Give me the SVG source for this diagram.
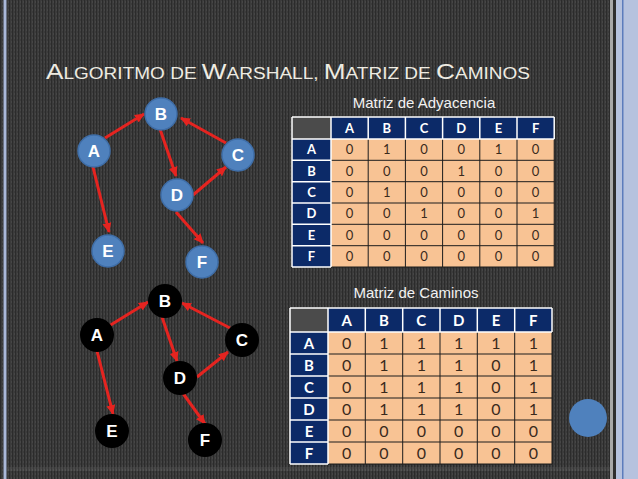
<svg xmlns="http://www.w3.org/2000/svg" width="638" height="479" viewBox="0 0 638 479">
<defs>
<pattern id="tex" width="3" height="4" patternUnits="userSpaceOnUse">
<rect width="3" height="4" fill="#3b3b3b"/>
<rect x="0" y="0" width="1" height="4" fill="#2b2b2b"/>
<rect x="2" y="1" width="1" height="2" fill="#464646"/>
</pattern>
<marker id="ah" markerWidth="10" markerHeight="10" refX="9" refY="5" orient="auto" markerUnits="userSpaceOnUse">
<path d="M0,0.5 L10,5 L0,9.5 z" fill="#e52420"/>
</marker>
<style>
.ttl{font-family:"Liberation Sans",Arial,sans-serif;fill:#eeebe2}
.sub{font-family:"Liberation Sans",Arial,sans-serif;font-size:15px;fill:#f2f2f2;text-anchor:middle}
.edge{stroke:#e52420;stroke-width:3;fill:none;marker-end:url(#ah)}
.nb{fill:#4f81bd;stroke:#3f6ea8;stroke-width:1.5}
.nk{fill:#000}
.nt{font-family:"Liberation Sans",Arial,sans-serif;font-weight:bold;font-size:17px;fill:#fff;text-anchor:middle}
.hd{fill:#0c2a68}
.cr{fill:#4b4b4b}
.ce{fill:#f8c394}
.wl{stroke:#fff;stroke-width:1.5}
.dl{stroke:#1c1c1c;stroke-width:1}
.h1{font-family:Lato,"Open Sans",sans-serif;font-weight:bold;font-size:13px;fill:#fff;text-anchor:middle}
.v1{font-family:Lato,"Open Sans",sans-serif;font-size:13px;fill:#3a2a1c;text-anchor:middle}
.h2{font-family:Lato,"Open Sans",sans-serif;font-weight:bold;font-size:15px;fill:#fff;text-anchor:middle}
.v2{font-family:Lato,"Open Sans",sans-serif;font-size:16px;fill:#3a2a1c;text-anchor:middle}
</style>
</defs>

<rect width="638" height="479" fill="url(#tex)"/>
<rect x="3.5" y="0" width="3" height="479" fill="#aab8d8"/>
<rect x="610" y="0" width="3" height="479" fill="#a8a8a8"/>
<rect x="613" y="0" width="3" height="479" fill="#2e2e2e"/>
<rect x="616" y="0" width="22" height="479" fill="#b6c2de"/>
<rect x="622" y="0" width="1.5" height="479" fill="#5c7cbc"/>
<rect x="7" y="467" width="603" height="4" fill="#ffffff" opacity="0.07"/>

<text class="ttl" x="46" y="78.5" textLength="484" lengthAdjust="spacingAndGlyphs"><tspan font-size="22">A</tspan><tspan font-size="16">LGORITMO DE </tspan><tspan font-size="22">W</tspan><tspan font-size="16">ARSHALL, </tspan><tspan font-size="22">M</tspan><tspan font-size="16">ATRIZ DE </tspan><tspan font-size="22">C</tspan><tspan font-size="16">AMINOS</tspan></text>

<g id="connectors">
<line class="edge" x1="105" y1="138" x2="144" y2="114"/>
<line class="edge" x1="160" y1="129" x2="176" y2="176"/>
<line class="edge" x1="226" y1="143" x2="181" y2="118"/>
<line class="edge" x1="193" y1="195" x2="226" y2="167"/>
<line class="edge" x1="93" y1="167" x2="109" y2="232"/>
<line class="edge" x1="176" y1="212" x2="203" y2="243"/>
<line class="edge" x1="109" y1="326" x2="148" y2="302"/>
<line class="edge" x1="162" y1="317" x2="177" y2="361"/>
<line class="edge" x1="230" y1="328" x2="182" y2="303"/>
<line class="edge" x1="197" y1="377" x2="228" y2="352"/>
<line class="edge" x1="97" y1="351" x2="113" y2="414"/>
<line class="edge" x1="182" y1="392" x2="205" y2="424"/>
</g>

<g id="nodeA1"><circle class="nb" cx="94" cy="151" r="16"/><text class="nt" x="94" y="157">A</text></g>
<g id="nodeB1"><circle class="nb" cx="161" cy="114" r="16"/><text class="nt" x="161" y="120">B</text></g>
<g id="nodeC1"><circle class="nb" cx="238" cy="155" r="16"/><text class="nt" x="238" y="161">C</text></g>
<g id="nodeD1"><circle class="nb" cx="177" cy="195" r="16"/><text class="nt" x="177" y="201">D</text></g>
<g id="nodeE1"><circle class="nb" cx="108" cy="251" r="16"/><text class="nt" x="108" y="257">E</text></g>
<g id="nodeF1"><circle class="nb" cx="202" cy="262" r="16"/><text class="nt" x="202" y="268">F</text></g>

<g id="nodeA2"><circle class="nk" cx="97" cy="335" r="17"/><text class="nt" x="97" y="341">A</text></g>
<g id="nodeB2"><circle class="nk" cx="165" cy="301" r="17"/><text class="nt" x="165" y="307">B</text></g>
<g id="nodeC2"><circle class="nk" cx="242" cy="340" r="17"/><text class="nt" x="242" y="346">C</text></g>
<g id="nodeD2"><circle class="nk" cx="180" cy="378" r="17"/><text class="nt" x="180" y="384">D</text></g>
<g id="nodeE2"><circle class="nk" cx="112" cy="431" r="17"/><text class="nt" x="112" y="437">E</text></g>
<g id="nodeF2"><circle class="nk" cx="205" cy="440" r="17"/><text class="nt" x="205" y="446">F</text></g>

<g id="matriz-adyacencia">
<text class="sub" x="424" y="108">Matriz de Adyacencia</text>
<rect class="cr" x="292" y="117" width="39" height="22"/>
<rect class="hd" x="331" y="117" width="223.2" height="22"/>
<rect class="hd" x="292" y="139" width="39" height="128"/>
<rect class="ce" x="331" y="139" width="223.2" height="128"/>
<g class="dl">
<line x1="368.2" y1="139" x2="368.2" y2="267"/><line x1="405.4" y1="139" x2="405.4" y2="267"/><line x1="442.6" y1="139" x2="442.6" y2="267"/><line x1="479.8" y1="139" x2="479.8" y2="267"/><line x1="517" y1="139" x2="517" y2="267"/><line x1="554.2" y1="139" x2="554.2" y2="267"/>
<line x1="331" y1="160.3" x2="554.2" y2="160.3"/><line x1="331" y1="181.7" x2="554.2" y2="181.7"/><line x1="331" y1="203" x2="554.2" y2="203"/><line x1="331" y1="224.3" x2="554.2" y2="224.3"/><line x1="331" y1="245.7" x2="554.2" y2="245.7"/><line x1="331" y1="267" x2="554.2" y2="267"/>
</g>
<g class="wl">
<line x1="292" y1="117" x2="554.2" y2="117"/><line x1="292" y1="139" x2="554.2" y2="139"/>
<line x1="292" y1="117" x2="292" y2="267"/><line x1="331" y1="117" x2="331" y2="267"/>
<line x1="368.2" y1="117" x2="368.2" y2="139"/><line x1="405.4" y1="117" x2="405.4" y2="139"/><line x1="442.6" y1="117" x2="442.6" y2="139"/><line x1="479.8" y1="117" x2="479.8" y2="139"/><line x1="517" y1="117" x2="517" y2="139"/><line x1="554.2" y1="117" x2="554.2" y2="139"/>
<line x1="292" y1="160.3" x2="331" y2="160.3"/><line x1="292" y1="181.7" x2="331" y2="181.7"/><line x1="292" y1="203" x2="331" y2="203"/><line x1="292" y1="224.3" x2="331" y2="224.3"/><line x1="292" y1="245.7" x2="331" y2="245.7"/><line x1="292" y1="267" x2="331" y2="267"/>
</g>
<g class="h1">
<text x="349.6" y="132.5">A</text><text x="386.8" y="132.5">B</text><text x="424" y="132.5">C</text><text x="461.2" y="132.5">D</text><text x="498.4" y="132.5">E</text><text x="535.6" y="132.5">F</text>
<text x="311.5" y="154.3">A</text><text x="311.5" y="175.7">B</text><text x="311.5" y="197">C</text><text x="311.5" y="218.3">D</text><text x="311.5" y="239.7">E</text><text x="311.5" y="261">F</text>
</g>
<g class="v1">
<text x="349.6" y="154.3">0</text><text x="386.8" y="154.3">1</text><text x="424" y="154.3">0</text><text x="461.2" y="154.3">0</text><text x="498.4" y="154.3">1</text><text x="535.6" y="154.3">0</text>
<text x="349.6" y="175.7">0</text><text x="386.8" y="175.7">0</text><text x="424" y="175.7">0</text><text x="461.2" y="175.7">1</text><text x="498.4" y="175.7">0</text><text x="535.6" y="175.7">0</text>
<text x="349.6" y="197">0</text><text x="386.8" y="197">1</text><text x="424" y="197">0</text><text x="461.2" y="197">0</text><text x="498.4" y="197">0</text><text x="535.6" y="197">0</text>
<text x="349.6" y="218.3">0</text><text x="386.8" y="218.3">0</text><text x="424" y="218.3">1</text><text x="461.2" y="218.3">0</text><text x="498.4" y="218.3">0</text><text x="535.6" y="218.3">1</text>
<text x="349.6" y="239.7">0</text><text x="386.8" y="239.7">0</text><text x="424" y="239.7">0</text><text x="461.2" y="239.7">0</text><text x="498.4" y="239.7">0</text><text x="535.6" y="239.7">0</text>
<text x="349.6" y="261">0</text><text x="386.8" y="261">0</text><text x="424" y="261">0</text><text x="461.2" y="261">0</text><text x="498.4" y="261">0</text><text x="535.6" y="261">0</text>
</g>
</g>

<g id="matriz-caminos">
<text class="sub" x="416" y="298">Matriz de Caminos</text>
<rect class="cr" x="290" y="308" width="38" height="24"/>
<rect class="hd" x="328" y="308" width="224" height="24"/>
<rect class="hd" x="290" y="332" width="38" height="132"/>
<rect class="ce" x="328" y="332" width="224" height="132"/>
<g class="dl">
<line x1="365.3" y1="332" x2="365.3" y2="464"/><line x1="402.7" y1="332" x2="402.7" y2="464"/><line x1="440" y1="332" x2="440" y2="464"/><line x1="477.3" y1="332" x2="477.3" y2="464"/><line x1="514.7" y1="332" x2="514.7" y2="464"/><line x1="552" y1="332" x2="552" y2="464"/>
<line x1="328" y1="354" x2="552" y2="354"/><line x1="328" y1="376" x2="552" y2="376"/><line x1="328" y1="398" x2="552" y2="398"/><line x1="328" y1="420" x2="552" y2="420"/><line x1="328" y1="442" x2="552" y2="442"/><line x1="328" y1="464" x2="552" y2="464"/>
</g>
<g class="wl">
<line x1="290" y1="308" x2="552" y2="308"/><line x1="290" y1="332" x2="552" y2="332"/>
<line x1="290" y1="308" x2="290" y2="464"/><line x1="328" y1="308" x2="328" y2="464"/>
<line x1="365.3" y1="308" x2="365.3" y2="332"/><line x1="402.7" y1="308" x2="402.7" y2="332"/><line x1="440" y1="308" x2="440" y2="332"/><line x1="477.3" y1="308" x2="477.3" y2="332"/><line x1="514.7" y1="308" x2="514.7" y2="332"/><line x1="552" y1="308" x2="552" y2="332"/>
<line x1="290" y1="354" x2="328" y2="354"/><line x1="290" y1="376" x2="328" y2="376"/><line x1="290" y1="398" x2="328" y2="398"/><line x1="290" y1="420" x2="328" y2="420"/><line x1="290" y1="442" x2="328" y2="442"/><line x1="290" y1="464" x2="328" y2="464"/>
</g>
<g class="h2">
<text x="346.7" y="325.5">A</text><text x="384" y="325.5">B</text><text x="421.3" y="325.5">C</text><text x="458.7" y="325.5">D</text><text x="496" y="325.5">E</text><text x="533.3" y="325.5">F</text>
<text x="309" y="348.5">A</text><text x="309" y="370.5">B</text><text x="309" y="392.5">C</text><text x="309" y="414.5">D</text><text x="309" y="436.5">E</text><text x="309" y="458.5">F</text>
</g>
<g class="v2">
<text x="346.7" y="349">0</text><text x="384" y="349">1</text><text x="421.3" y="349">1</text><text x="458.7" y="349">1</text><text x="496" y="349">1</text><text x="533.3" y="349">1</text>
<text x="346.7" y="371">0</text><text x="384" y="371">1</text><text x="421.3" y="371">1</text><text x="458.7" y="371">1</text><text x="496" y="371">0</text><text x="533.3" y="371">1</text>
<text x="346.7" y="393">0</text><text x="384" y="393">1</text><text x="421.3" y="393">1</text><text x="458.7" y="393">1</text><text x="496" y="393">0</text><text x="533.3" y="393">1</text>
<text x="346.7" y="415">0</text><text x="384" y="415">1</text><text x="421.3" y="415">1</text><text x="458.7" y="415">1</text><text x="496" y="415">0</text><text x="533.3" y="415">1</text>
<text x="346.7" y="437">0</text><text x="384" y="437">0</text><text x="421.3" y="437">0</text><text x="458.7" y="437">0</text><text x="496" y="437">0</text><text x="533.3" y="437">0</text>
<text x="346.7" y="459">0</text><text x="384" y="459">0</text><text x="421.3" y="459">0</text><text x="458.7" y="459">0</text><text x="496" y="459">0</text><text x="533.3" y="459">0</text>
</g>
</g>

<circle cx="588" cy="418" r="19" fill="#4f81bd"/>
</svg>
